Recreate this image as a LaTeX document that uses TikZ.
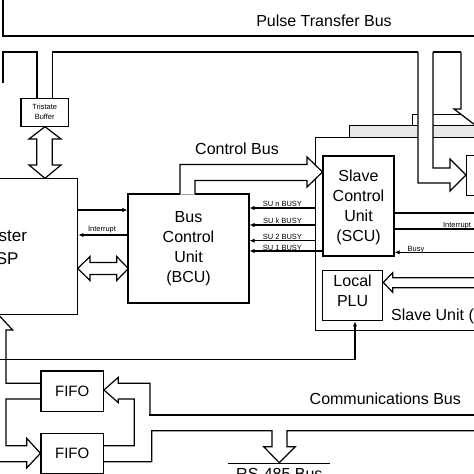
\documentclass[tikz,border=0pt]{standalone}
\usepackage{fontspec}
\setmainfont{Liberation Sans}
\usetikzlibrary{arrows.meta}
\begin{document}
\begin{tikzpicture}[x=1pt,y=-1pt,
  ln/.style={line width=1.2pt, line join=miter},
  fat/.style={draw, line width=1.2pt, fill=white, line join=miter},
  box/.style={draw, line width=1.2pt, fill=white, inner sep=0pt},
  big/.style={font=\fontsize{16}{20}\selectfont, align=center, inner sep=0pt},
  small/.style={font=\fontsize{7.5}{10}\selectfont, align=center, inner sep=0pt},
  arr/.style={-{Latex[length=5pt,width=4.5pt]}}]
\useasboundingbox (0,0) rectangle (474,474);
\fill[white] (0,0) rectangle (474,474);

% ---------- Pulse transfer bus ----------
\node[big] (ptb) at (324,20.5) {Pulse Transfer Bus};
\draw[ln] (3,-5) -- (3,36) -- (480,36);
\node[box, minimum width=47.3pt, minimum height=28.4pt] (TB) at (44.7,112.5) {};
\node[small] (TBt) at (44.7,112) {Tristate\\Buffer};
\draw[ln] (TB.north -| 37,0) -- (37,52) -- (3,52) -- (3,83);
\draw[ln] (TB.north -| 52.3,0) -- (52.3,52) -- (418,52);

% ---------- stacked slave units ----------
\node[box, anchor=north west, minimum width=100pt, minimum height=200pt] (SU3) at (412,113.5) {};
\filldraw[fat] (461,52) -- (461,109) -- (454,109) -- (475,125) -- (496,109) -- (489,109) -- (489,52);
\draw[ln] (433,52) -- (461,52);
\node[box, fill=black!9, anchor=north west, minimum width=150pt, minimum height=200pt] (SU2) at (348.5,124.5) {};
\node[box, anchor=north west, minimum width=180pt, minimum height=193.3pt] (SU) at (314.7,136.7) {};
\node[big, anchor=west] (SUt) at (391,316.5) {Slave Unit (SU)};
\filldraw[fat] (418,52) -- (418,183) -- (450,183) -- (450,191) -- (466,175) -- (450,159) -- (450,168) -- (433,168) -- (433,52);
\node[box, anchor=north west, minimum width=30pt, minimum height=40pt] (RB) at (466,155) {};

% ---------- SCU and PLU ----------
\node[box, minimum width=71pt, minimum height=100pt] (SCU) at (358.5,206) {};
\node[big] (SCUt) at (358.5,207) {Slave\\Control\\Unit\\(SCU)};
\node[box, minimum width=60.2pt, minimum height=50.7pt] (PLU) at (352.6,295.5) {};
\node[big] (PLUt) at (352.6,290.5) {Local\\PLU};

\coordinate (e1) at (480,213);
\coordinate (e2) at (480,229);
\coordinate (e3) at (480,252.3);
\draw[ln] (SCU.east |- e1) -- (e1);
\draw[ln] (SCU.east |- e2) -- (e2);
\node[small, anchor=base] (intR) at (457,227) {Interrupt};
\draw[ln,arr] (e3) -- (SCU.east |- e3);
\node[small, anchor=base] (busyt) at (416,251.3) {Busy};
\filldraw[fat] (480,277.7) -- (392.7,277.7) -- (392.7,272.7) -- (PLU.east |- 0,282.5) -- (392.7,292.3) -- (392.7,287.7) -- (480,287.7);

% ---------- BCU ----------
\node[box, minimum width=121pt, minimum height=109pt] (BCU) at (188.5,248.5) {};
\node[big] (BCUt) at (188.5,249) {Bus\\Control\\Unit\\(BCU)};
\fill[white] (180,194.6) -- (180,164.5) -- (307,164.5) -- (307,157) -- (322.5,172) -- (307,187) -- (307,180.5) -- (195,180.5) -- (195,194.6) -- cycle;
\draw[ln] (180,194) -- (180,164.5) -- (307,164.5) -- (307,157) -- (322.5,172) -- (307,187) -- (307,180.5) -- (195,180.5) -- (195,194);
\node[big, anchor=base west] (cbt) at (195,154.5) {Control Bus};

\draw[ln,arr] (SU.west |- 0,208) -- (BCU.east |- 0,208);
\draw[ln,arr] (SU.west |- 0,225) -- (BCU.east |- 0,225);
\draw[ln,arr] (SU.west |- 0,240.7) -- (BCU.east |- 0,240.7);
\draw[ln,arr] (SCU.west |- 0,251) -- (BCU.east |- 0,251);
\node[small] (b1) at (282.4,203.5) {SU n BUSY};
\node[small] (b2) at (282.4,220.5) {SU k BUSY};
\node[small] (b3) at (282.4,237) {SU 2 BUSY};
\node[small] (b4) at (282.4,248) {SU 1 BUSY};

% ---------- Master DSP ----------
\node[box, minimum width=157.7pt, minimum height=136pt] (DSP) at (-1,246.3) {};
\node[big, font=\fontsize{17}{23}\selectfont] (DSPt) at (1,247) {Master\\DSP};
\filldraw[fat] (45,126.7) -- (61,139) -- (52.3,139) -- (52.3,165) -- (61,165) -- (45,178.3) -- (29,165) -- (36.7,165) -- (36.7,139) -- (29,139) -- cycle;
\draw[ln,arr] (DSP.east |- 0,210) -- (BCU.west |- 0,210);
\draw[ln,arr] (BCU.west |- 0,235) -- (DSP.east |- 0,235);
\node[small, anchor=base] (intL) at (102,231) {Interrupt};
\filldraw[fat] (77.7,268.5) -- (90,256.5) -- (90,262.5) -- (116.7,262.5) -- (116.7,256.5) -- (128.3,268.5) -- (116.7,280.5) -- (116.7,274.5) -- (90,274.5) -- (90,280.5) -- cycle;

% ---------- PLU feed line ----------
\draw[ln,arr] (-5,359.3) -| ([xshift=2.4pt]PLU.south);

% ---------- FIFOs ----------
\node[box, big, font=\fontsize{15}{18}\selectfont, minimum width=62.3pt, minimum height=40.7pt] (F1) at (72.2,391.4) {FIFO};
\node[box, big, font=\fontsize{15}{18}\selectfont, minimum width=62.3pt, minimum height=40.7pt] (F2) at (72.2,453.5) {FIFO};
\draw[ln] (F1.west |- 0,383.3) -- (6,383.3) -- (6,330) -- (12.7,330) -- (-2,314.3);
\draw[ln] (F1.west |- 0,399) -- (6,399) -- (6,445.7) -- (26.7,445.7) -- (26.7,438.3) -- (F2.west |- 0,453.3) -- (26.7,468) -- (26.7,461.7) -- (-5,461.7);
\draw[ln] (F1.east |- 0,390) -- (118.3,377.3) -- (118.3,383.3) -- (150,383.3) -- (150,415);
\draw[line width=1.8pt] (149.1,415) -- (480,415);
\draw[ln] (F1.east |- 0,390) -- (118.3,402.7) -- (118.3,399) -- (134.3,399) -- (134.3,445.7) -- (F2.east |- 0,445.7);
\node[big, anchor=base west] (cmt) at (309.5,404.5) {Communications Bus};

% ---------- RS bus ----------
\coordinate (rsL) at (228.3,463.3);
\coordinate (rsR) at (330,463.3);
\draw[ln] (rsL) -- (rsR);
\draw[ln] (F2.east |- 0,461.7) -- (151.7,461.7) -- (151.7,430.7) -- (272,430.7) -- (272,446.7) -- (263.7,446.7) -- (279.3,462.7) -- (295.3,446.7) -- (287,446.7) -- (287,430.7) -- (480,430.7);
\node[big, anchor=base west] (rst) at (236,479.5) {RS-485 Bus};
\end{tikzpicture}
\end{document}
